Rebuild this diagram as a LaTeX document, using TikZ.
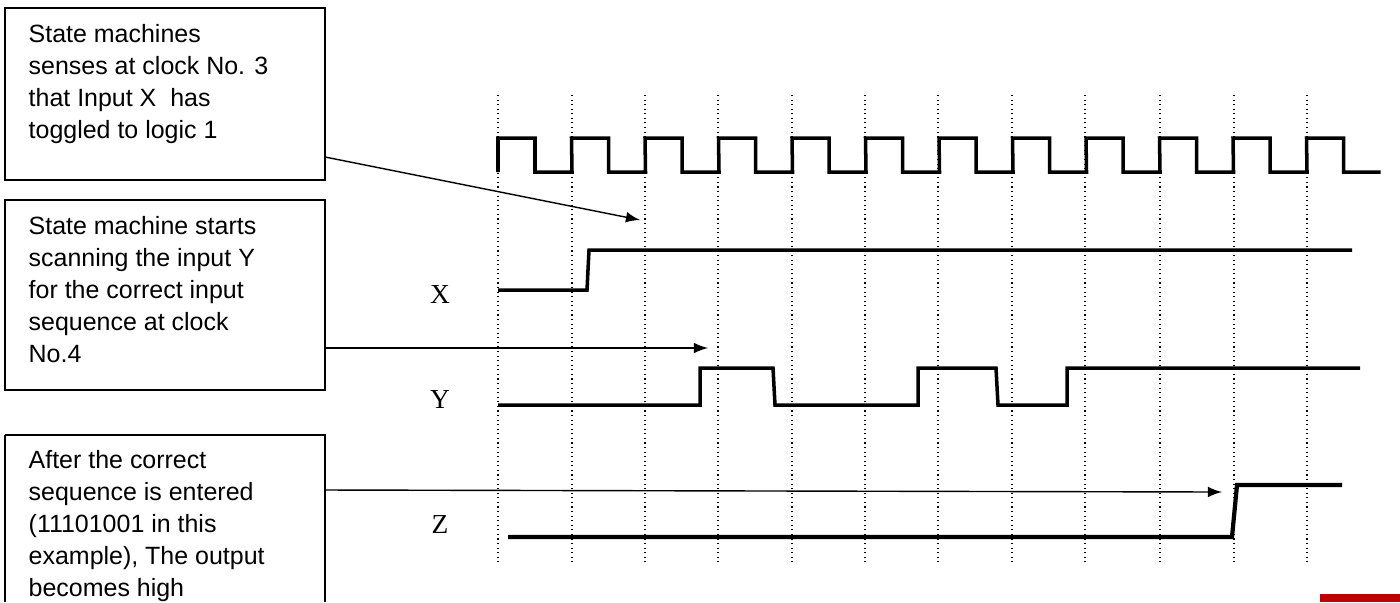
\documentclass[tikz,border=0pt]{standalone}
\usepackage{fontspec}
\setmainfont{Liberation Serif}
\newfontfamily\sans{Liberation Sans}
\begin{document}
\begin{tikzpicture}[x=0.01cm,y=-0.01cm,
  box/.style={draw,line width=0.5pt},
  txt/.style={anchor=north west,align=left,font=\sans\fontsize{7.1}{9.1}\selectfont,inner sep=0pt},
  sig/.style={line width=1pt},
  grid/.style={densely dotted,line width=0.3pt},
  lab/.style={font=\fontsize{7.8}{8}\selectfont},
  arr/.style={-latex,line width=0.4pt}]
\useasboundingbox (0,0) rectangle (1400,602);
\draw[box] (5,8) rectangle (325,180);
\draw[box] (5,200) rectangle (325,390);
\draw[box] (5,435) -- (5,602) (325,602) -- (325,435) -- (5,435);
\node[txt] at (28,24) {State machines\\senses at clock No. 3\\that Input X\ \ has\\toggled to logic 1};
\node[txt] at (28,216) {State machine starts\\scanning the input Y\\for the correct input\\sequence at clock\\No.4};
\node[txt] at (28,450) {After the correct\\sequence is entered\\(11101001 in this\\example), The output\\becomes high};
\foreach \x in {498,572,645,718,792,865,938,1012,1085,1160,1234,1307}
  \draw[grid] (\x,95) -- (\x,565);
\draw[sig] (498,172)
  \foreach \i in {0,...,11} { -- ({498+73.5*\i},138) -- ({535+73.5*\i},138) -- ({535+73.5*\i},172) -- ({572+73.5*\i},172) } -- (1380,172);
\node[lab] at (440,295) {X};
\node[lab] at (440,400) {Y};
\node[lab] at (440,525) {Z};
\draw[sig] (498,290) -- (587,290) -- (589,250) -- (1352,250);
\draw[sig] (498,405) -- (700,405) -- (700,368) -- (773,368) -- (775,405) -- (918,405) -- (918,368) -- (996,368) -- (998,405) -- (1067,405) -- (1067,368) -- (1360,368);
\draw[line width=1.2pt] (508,537) -- (1232,537) -- (1237,485) -- (1342,485);
\coordinate (a1) at (325,157); \coordinate (b1) at (640,220);
\coordinate (a2) at (325,348); \coordinate (b2) at (708,348);
\coordinate (a3) at (325,490); \coordinate (b3) at (1222,492);
\draw[arr] (a1) -- (b1);
\draw[arr] (a2) -- (b2);
\draw[arr] (a3) -- (b3);
\fill[red!75!black] (1320,594) rectangle (1400,602);
\end{tikzpicture}
\end{document}
